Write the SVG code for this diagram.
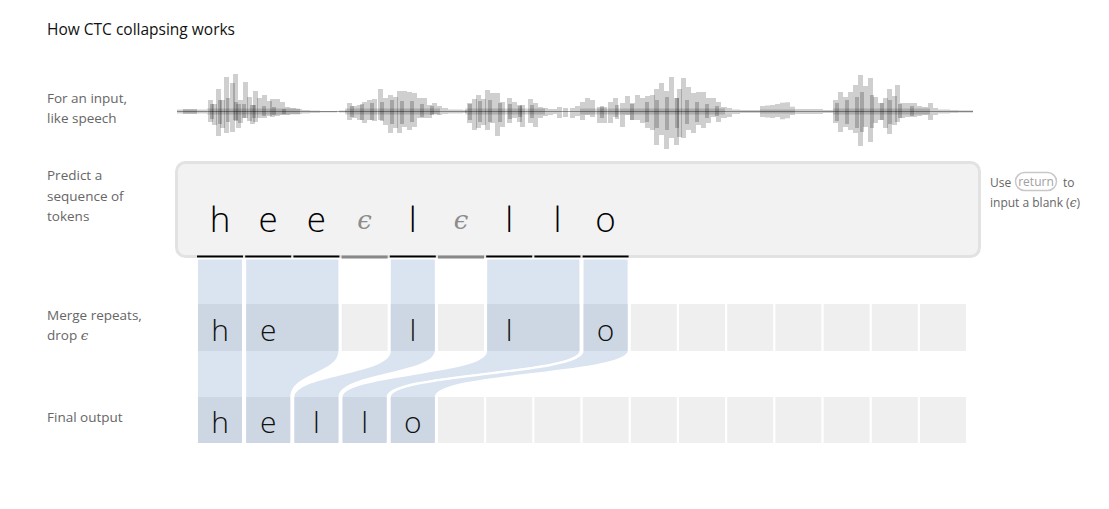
<svg xmlns="http://www.w3.org/2000/svg" width="1109" height="509" viewBox="0 0 1109 509">
<style>
text{font-family:"Open Sans","Noto Sans","DejaVu Sans",sans-serif}
.title{font-size:15.5px;fill:#111}
.lbl{font-size:13.5px;fill:#666}
.hint{font-size:12px;fill:#666}
.tok{font-size:35px;font-weight:300;fill:#000;text-anchor:middle}
.eps{font-family:"DejaVu Serif",serif;font-style:italic;font-size:26px;fill:#8c8c8c;text-anchor:middle}
.cl{font-size:30px;font-weight:300;fill:#111;text-anchor:middle}
.cell{fill:#efefef}
.flow{fill:#dae3f0;stroke:#fff;stroke-width:2;stroke-linejoin:round}
.on{fill:#cdd7e3}
.ul{fill:#000}
.ulg{fill:#888}
.w rect{fill:#000;opacity:0.19}
.wi rect{fill:#000;opacity:0.2}
.wc rect{fill:#000;opacity:0.17}
</style>

<g id="title"><text class="title" x="47" y="35">How CTC collapsing works</text></g>

<g id="labels">
<text class="lbl" x="47" y="102.5">For an input,</text>
<text class="lbl" x="47" y="123">like speech</text>
<text class="lbl" x="47" y="180">Predict a</text>
<text class="lbl" x="47" y="200.5">sequence of</text>
<text class="lbl" x="47" y="221">tokens</text>
<text class="lbl" x="47" y="319.5">Merge repeats,</text>
<text class="lbl" x="47" y="340">drop <tspan font-family="DejaVu Serif,serif" font-style="italic">ϵ</tspan></text>
<text class="lbl" x="47" y="421.5">Final output</text>
</g>

<g id="waveform">
<line x1="177" y1="111.5" x2="973" y2="111.5" stroke="#444" stroke-width="1" opacity="0.5"/>
<g class="w">
<rect x="177" y="109.5" width="30" height="4"/><rect x="183" y="109" width="14" height="5"/>
<rect x="208" y="100" width="5" height="22"/><rect x="212" y="104" width="5" height="21"/><rect x="216" y="89" width="5" height="47"/><rect x="220" y="100" width="5" height="28"/>
<rect x="224" y="77" width="5" height="56"/><rect x="230" y="83" width="5" height="49"/><rect x="233" y="74" width="5" height="46"/><rect x="236" y="104" width="5" height="24"/>
<rect x="238" y="100" width="5" height="23"/><rect x="243" y="82" width="5" height="36"/><rect x="247" y="97" width="5" height="24"/><rect x="250" y="105" width="5" height="19"/>
<rect x="253" y="91" width="5" height="31"/><rect x="257" y="98" width="5" height="20"/><rect x="262" y="95" width="5" height="23"/><rect x="267" y="101" width="5" height="15"/>
<rect x="270" y="99" width="5" height="18"/><rect x="275" y="99" width="5" height="17"/><rect x="280" y="102" width="5" height="13"/><rect x="285" y="107" width="5" height="8"/>
<rect x="290" y="108" width="6" height="6"/><rect x="296" y="109" width="6" height="5"/><rect x="302" y="110" width="8" height="3.5"/><rect x="310" y="110.5" width="10" height="2.5"/><rect x="320" y="111" width="17" height="1.5"/>
<rect x="339" y="110.5" width="8" height="2"/><rect x="347" y="103" width="5" height="17"/><rect x="352" y="106" width="5" height="12"/><rect x="357" y="105" width="5" height="15"/>
<rect x="362" y="102" width="5" height="21"/><rect x="367" y="100" width="5" height="20"/><rect x="372" y="99" width="5" height="22"/><rect x="378" y="89" width="5" height="31"/>
<rect x="383" y="98" width="5" height="27"/><rect x="388" y="95" width="5" height="38"/><rect x="393" y="97" width="5" height="31"/><rect x="397" y="91" width="5" height="42"/>
<rect x="402" y="91" width="5" height="36"/><rect x="407" y="92" width="5" height="38"/><rect x="412" y="93" width="5" height="34"/><rect x="417" y="98" width="5" height="20"/>
<rect x="422" y="98" width="5" height="20"/><rect x="427" y="105" width="5" height="13"/><rect x="432" y="103" width="5" height="11"/><rect x="437" y="106" width="5" height="9"/>
<rect x="442" y="108" width="6" height="6"/><rect x="448" y="109.5" width="15" height="4"/>
<rect x="463" y="110" width="4" height="3"/><rect x="467" y="103" width="5" height="20"/><rect x="472" y="99" width="5" height="31"/><rect x="476" y="95" width="5" height="33"/>
<rect x="481" y="99" width="5" height="26"/><rect x="485" y="90" width="5" height="40"/><rect x="490" y="93" width="5" height="30"/><rect x="495" y="93" width="5" height="43"/>
<rect x="500" y="102" width="5" height="25"/><rect x="507" y="98" width="5" height="25"/><rect x="512" y="102" width="5" height="16"/><rect x="517" y="105" width="5" height="17"/>
<rect x="520" y="105" width="5" height="22"/><rect x="528" y="99" width="5" height="24"/><rect x="533" y="103" width="5" height="24"/><rect x="538" y="107" width="5" height="11"/>
<rect x="543" y="108" width="5" height="8"/><rect x="548" y="109" width="5" height="6"/><rect x="553" y="109" width="4" height="5"/><rect x="557" y="107" width="5" height="11"/>
<rect x="563" y="108" width="5" height="9"/><rect x="570" y="108" width="5" height="10"/><rect x="575" y="106" width="5" height="10"/>
<rect x="580" y="102" width="5" height="18"/><rect x="585" y="98" width="5" height="17"/><rect x="590" y="100" width="5" height="17"/><rect x="597" y="107" width="5" height="16"/>
<rect x="602" y="107" width="5" height="16"/><rect x="608" y="102" width="5" height="21"/><rect x="613" y="98" width="5" height="19"/><rect x="620" y="103" width="5" height="24"/>
<rect x="625" y="96" width="5" height="19"/><rect x="630" y="103" width="5" height="17"/><rect x="635" y="95" width="5" height="25"/><rect x="640" y="98" width="5" height="25"/>
<rect x="645" y="96" width="5" height="32"/><rect x="650" y="95" width="5" height="35"/><rect x="654" y="89" width="5" height="56"/><rect x="659" y="83" width="5" height="52"/>
<rect x="664" y="91" width="5" height="58"/><rect x="669" y="77" width="5" height="61"/><rect x="674" y="98" width="5" height="47"/><rect x="677" y="89" width="5" height="48"/>
<rect x="681" y="78" width="5" height="60"/><rect x="686" y="87" width="5" height="43"/><rect x="691" y="93" width="5" height="40"/><rect x="696" y="92" width="5" height="33"/>
<rect x="701" y="92" width="5" height="36"/><rect x="706" y="98" width="5" height="25"/><rect x="711" y="98" width="5" height="19"/><rect x="716" y="102" width="5" height="20"/>
<rect x="721" y="107" width="6" height="11"/><rect x="727" y="108" width="5" height="9"/><rect x="732" y="109.5" width="8" height="4.5"/><rect x="740" y="110" width="20" height="3"/>
<rect x="760" y="106" width="5" height="11"/><rect x="765" y="105.5" width="5" height="12"/><rect x="770" y="105" width="5" height="13"/><rect x="775" y="104" width="5" height="13"/>
<rect x="780" y="102.7" width="5" height="16.6"/><rect x="785" y="102.3" width="5" height="16"/><rect x="790" y="106.7" width="5" height="8.3"/><rect x="795" y="109" width="28" height="5"/>
<rect x="823" y="110" width="10" height="3"/><rect x="833" y="100" width="5" height="23"/><rect x="838" y="92" width="5" height="40"/><rect x="843" y="97" width="5" height="30"/>
<rect x="848" y="92" width="5" height="38"/><rect x="853" y="85" width="5" height="48"/><rect x="858" y="75" width="5" height="71"/><rect x="863" y="86" width="5" height="41"/>
<rect x="868" y="78" width="5" height="64"/><rect x="873" y="97" width="5" height="26"/><rect x="878" y="103" width="5" height="17"/><rect x="883" y="98" width="5" height="30"/>
<rect x="887" y="89" width="5" height="45"/><rect x="892" y="96" width="5" height="29"/><rect x="895" y="85" width="5" height="37"/><rect x="900" y="103" width="5" height="15"/>
<rect x="905" y="103" width="7" height="14"/><rect x="912" y="103" width="5" height="14"/><rect x="917" y="106" width="5" height="10"/><rect x="922" y="107" width="6" height="8"/>
<rect x="928" y="103" width="5" height="17"/><rect x="933" y="108" width="5" height="7"/><rect x="938" y="109.5" width="12" height="4"/><rect x="950" y="110" width="8" height="3"/><rect x="958" y="110.3" width="15" height="2.4"/>
</g>
<g class="wi">
<rect x="210" y="104" width="4" height="15"/><rect x="218" y="100" width="4" height="24"/><rect x="226" y="98" width="4" height="24"/><rect x="234" y="102" width="4" height="19"/>
<rect x="242" y="104" width="4" height="14"/><rect x="252" y="105" width="4" height="13"/><rect x="262" y="106" width="4" height="10"/><rect x="272" y="107" width="4" height="8"/><rect x="282" y="109" width="4" height="5"/>
<rect x="350" y="106" width="4" height="11"/><rect x="360" y="104" width="4" height="16"/><rect x="370" y="103" width="4" height="17"/><rect x="380" y="102" width="4" height="19"/>
<rect x="390" y="100" width="4" height="24"/><rect x="400" y="101" width="4" height="23"/><rect x="410" y="101" width="4" height="21"/><rect x="420" y="104" width="4" height="13"/><rect x="430" y="106" width="4" height="9"/>
<rect x="468" y="104" width="4" height="16"/><rect x="478" y="101" width="4" height="21"/><rect x="488" y="100" width="4" height="22"/><rect x="498" y="103" width="4" height="19"/>
<rect x="508" y="104" width="4" height="15"/><rect x="518" y="106" width="4" height="11"/><rect x="530" y="105" width="4" height="13"/>
<rect x="600" y="106" width="4" height="12"/><rect x="615" y="105" width="4" height="14"/><rect x="630" y="104" width="4" height="16"/><rect x="645" y="102" width="4" height="20"/>
<rect x="655" y="100" width="4" height="28"/><rect x="665" y="97" width="4" height="33"/><rect x="675" y="98" width="4" height="30"/><rect x="685" y="100" width="4" height="24"/>
<rect x="695" y="102" width="4" height="20"/><rect x="705" y="104" width="4" height="14"/><rect x="715" y="106" width="4" height="10"/>
<rect x="835" y="103" width="4" height="18"/><rect x="845" y="100" width="4" height="24"/><rect x="855" y="97" width="4" height="31"/><rect x="860" y="92" width="4" height="40"/>
<rect x="870" y="95" width="4" height="33"/><rect x="880" y="103" width="4" height="17"/><rect x="888" y="100" width="4" height="24"/><rect x="898" y="104" width="4" height="14"/><rect x="910" y="106" width="4" height="10"/>
</g>
<g class="wc">
<rect x="207" y="108.5" width="93" height="6"/>
<rect x="345" y="108.5" width="95" height="6"/>
<rect x="465" y="108.5" width="80" height="6"/>
<rect x="580" y="108.5" width="145" height="6"/>
<rect x="760" y="109.5" width="35" height="4"/>
<rect x="833" y="108.5" width="97" height="6"/>
</g>
</g>

<g id="token-box">
<rect x="176.5" y="162.5" width="803" height="94" rx="9" fill="#f2f2f2" stroke="#e2e2e2" stroke-width="3"/>
<text class="tok" x="220" y="232">h</text>
<text class="tok" x="268.2" y="232">e</text>
<text class="tok" x="316.4" y="232">e</text>
<text class="eps" x="364.6" y="229">ϵ</text>
<text class="tok" x="412.8" y="232">l</text>
<text class="eps" x="461" y="229">ϵ</text>
<text class="tok" x="509.2" y="232">l</text>
<text class="tok" x="557.4" y="232">l</text>
<text class="tok" x="605.6" y="232">o</text>
<rect class="ul" x="197" y="255.5" width="46" height="3"/>
<rect class="ul" x="245.2" y="255.5" width="46" height="3"/>
<rect class="ul" x="293.4" y="255.5" width="46" height="3"/>
<rect class="ulg" x="341.6" y="255.5" width="46" height="3"/>
<rect class="ul" x="389.8" y="255.5" width="46" height="3"/>
<rect class="ulg" x="438" y="255.5" width="46" height="3"/>
<rect class="ul" x="486.2" y="255.5" width="46" height="3"/>
<rect class="ul" x="534.4" y="255.5" width="46" height="3"/>
<rect class="ul" x="582.6" y="255.5" width="46" height="3"/>
</g>

<g id="hint">
<text class="hint" x="990" y="186.5">Use</text>
<rect x="1015.5" y="172.5" width="41" height="18" rx="9" fill="none" stroke="#c8c8c8" stroke-width="1.5"/>
<text class="hint" x="1036" y="186" text-anchor="middle" style="fill:#a0a0a0">return</text>
<text class="hint" x="1063" y="186.5">to</text>
<text class="hint" x="990" y="207">input a blank (<tspan font-family="DejaVu Serif,serif" font-style="italic">ϵ</tspan>)</text>
</g>

<g id="merge-row-empty">
<rect class="cell" x="341.6" y="304" width="46" height="47"/>
<rect class="cell" x="438" y="304" width="46" height="47"/>
<rect class="cell" x="630.8" y="304" width="46" height="47"/>
<rect class="cell" x="679" y="304" width="46" height="47"/>
<rect class="cell" x="727.2" y="304" width="46" height="47"/>
<rect class="cell" x="775.4" y="304" width="46" height="47"/>
<rect class="cell" x="823.6" y="304" width="46" height="47"/>
<rect class="cell" x="871.8" y="304" width="46" height="47"/>
<rect class="cell" x="920" y="304" width="46" height="47"/>
</g>
<g id="final-row-empty">
<rect class="cell" x="438" y="397" width="46" height="46"/>
<rect class="cell" x="486.2" y="397" width="46" height="46"/>
<rect class="cell" x="534.4" y="397" width="46" height="46"/>
<rect class="cell" x="582.6" y="397" width="46" height="46"/>
<rect class="cell" x="630.8" y="397" width="46" height="46"/>
<rect class="cell" x="679" y="397" width="46" height="46"/>
<rect class="cell" x="727.2" y="397" width="46" height="46"/>
<rect class="cell" x="775.4" y="397" width="46" height="46"/>
<rect class="cell" x="823.6" y="397" width="46" height="46"/>
<rect class="cell" x="871.8" y="397" width="46" height="46"/>
<rect class="cell" x="920" y="397" width="46" height="46"/>
</g>

<g id="connectors">
<path class="flow" d="M197,258.5 H243 V443 H197 Z"/>
<path class="flow" d="M245.2,258.5 H339.4 V351 C339.4,374 291.2,374 291.2,397 V443 H245.2 Z"/>
<path class="flow" d="M389.8,258.5 H435.8 V351 C435.8,374 339.4,374 339.4,397 V443 H293.4 V397 C293.4,374 389.8,374 389.8,351 Z"/>
<path class="flow" d="M486.2,258.5 H580.4 V351 C580.4,374 387.6,374 387.6,397 V443 H341.6 V397 C341.6,374 486.2,374 486.2,351 Z"/>
<path class="flow" d="M582.6,258.5 H628.6 V351 C628.6,374 435.8,374 435.8,397 V443 H389.8 V397 C389.8,374 582.6,374 582.6,351 Z"/>
</g>

<g id="merge-row">
<rect class="on" x="198" y="304" width="44" height="47"/>
<rect class="on" x="246.2" y="304" width="92.2" height="47"/>
<rect class="on" x="390.8" y="304" width="44" height="47"/>
<rect class="on" x="487.2" y="304" width="92.2" height="47"/>
<rect class="on" x="583.6" y="304" width="44" height="47"/>
<text class="cl" x="220" y="340.5">h</text>
<text class="cl" x="268.2" y="340.5">e</text>
<text class="cl" x="412.8" y="340.5">l</text>
<text class="cl" x="509.2" y="340.5">l</text>
<text class="cl" x="605.6" y="340.5">o</text>
</g>

<g id="final-row">
<rect class="on" x="198" y="397" width="44" height="46"/>
<rect class="on" x="246.2" y="397" width="44" height="46"/>
<rect class="on" x="294.4" y="397" width="44" height="46"/>
<rect class="on" x="342.6" y="397" width="44" height="46"/>
<rect class="on" x="390.8" y="397" width="44" height="46"/>
<text class="cl" x="220" y="432.5">h</text>
<text class="cl" x="268.2" y="432.5">e</text>
<text class="cl" x="316.4" y="432.5">l</text>
<text class="cl" x="364.6" y="432.5">l</text>
<text class="cl" x="412.8" y="432.5">o</text>
</g>
</svg>
